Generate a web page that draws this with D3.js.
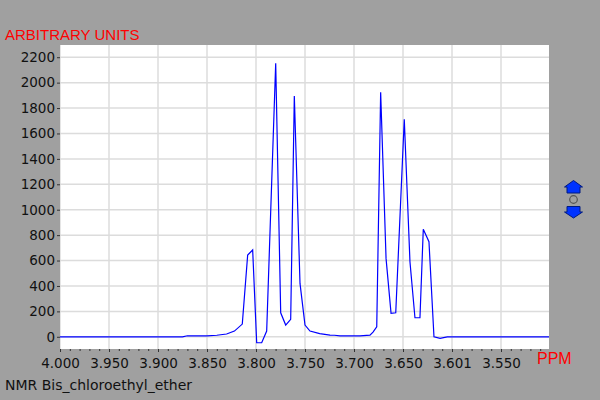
<!DOCTYPE html>
<html>
<head>
<meta charset="utf-8">
<script src="https://cdn.jsdelivr.net/npm/d3@7"></script>
<style>
html,body{margin:0;padding:0;background:#a0a0a0;}
svg{display:block;}
</style>
</head>
<body>
<svg id="chart" width="600" height="400"></svg>
<script>
// ---- data ----
const ppm = [4.000, 3.875, 3.870, 3.850, 3.840, 3.830, 3.822, 3.814, 3.8085, 3.8034, 3.7993, 3.7942, 3.7891,
  3.7799, 3.7748, 3.7697, 3.7646, 3.7609, 3.7551, 3.7500, 3.7449, 3.7350, 3.7245, 3.7200, 3.7143, 3.6939,
  3.6837, 3.6806, 3.6768, 3.6728, 3.6673, 3.6622, 3.6574, 3.6487, 3.6429, 3.6378, 3.6327, 3.6293, 3.6235,
  3.6184, 3.6122, 3.6048, 3.500];
const intensity = [0, 0, 8, 8, 12, 22, 45, 100, 643, 683, -47, -47, 45,
  2153, 189, 92, 137, 1895, 420, 92, 45, 25, 13, 12, 8, 8,
  13, 37, 79, 1924, 617, 184, 189, 1712, 591, 150, 150, 846, 748,
  0, -13, 0, 0];
const xTicks = [4.0, 3.95, 3.9, 3.85, 3.8, 3.75, 3.7, 3.65, 3.6, 3.55];
const xTickLabels = ["4.000", "3.950", "3.900", "3.850", "3.800", "3.750", "3.700", "3.650", "3.601", "3.550"];
const xMinorTicks = d3.range(0, 50).map(i => +(4.0 - i * 0.01).toFixed(3));
const yTicks = [0, 200, 400, 600, 800, 1000, 1200, 1400, 1600, 1800, 2000, 2200];
const yTickLabels = yTicks.map(String);
const yAxisTitle = "ARBITRARY UNITS";
const xAxisTitle = "PPM";
const chartTitle = "NMR Bis_chloroethyl_ether";

// ---- layout ----
const svg = d3.select("#chart");
const L = 60, R = 549, T = 45, B = 349;
const x = d3.scaleLinear().domain([4.0, 3.5]).range([L, 550]);
const y = d3.scaleLinear().domain([-100, 2300]).range([349.5, 44.5]);

svg.append("rect").attr("width", 600).attr("height", 400).attr("fill", "#a0a0a0");
svg.append("rect").attr("x", L).attr("y", T).attr("width", R - L).attr("height", B - T).attr("fill", "#ffffff");

svg.append("clipPath").attr("id", "clip").append("rect")
  .attr("x", L).attr("y", T).attr("width", R - L).attr("height", B - T);

// gridlines
const grid = svg.append("g").attr("clip-path", "url(#clip)");
grid.selectAll("line.v").data(xTicks).enter().append("line")
  .attr("x1", d => x(d)).attr("x2", d => x(d)).attr("y1", T).attr("y2", B)
  .attr("stroke", "#dcdcdc").attr("stroke-width", 1.5);
grid.selectAll("line.h").data(yTicks).enter().append("line")
  .attr("x1", L).attr("x2", R).attr("y1", d => y(d)).attr("y2", d => y(d))
  .attr("stroke", "#dcdcdc").attr("stroke-width", 1.5);

// y axis
const yAxis = d3.axisLeft(y).tickValues(yTicks).tickSize(3).tickPadding(2)
  .tickFormat((d, i) => yTickLabels[i]);
const gy = svg.append("g").attr("transform", `translate(${L},0)`).call(yAxis);
gy.select(".domain").remove();
gy.selectAll(".tick line").attr("stroke", "#333");
gy.selectAll(".tick text").attr("font-family", "DejaVu Sans").attr("font-size", "13.5px").attr("fill", "#111");

// x axis major
const xAxis = d3.axisBottom(x).tickValues(xTicks).tickSize(3).tickPadding(6)
  .tickFormat((d, i) => xTickLabels[i]);
const gx = svg.append("g").attr("transform", `translate(0,${B})`).call(xAxis);
gx.select(".domain").remove();
gx.selectAll(".tick line").attr("stroke", "#333");
gx.selectAll(".tick text").attr("font-family", "DejaVu Sans").attr("font-size", "13.5px").attr("fill", "#111");

// x minor ticks
const xMinor = d3.axisBottom(x).tickValues(xMinorTicks).tickSize(2).tickFormat("");
const gm = svg.append("g").attr("transform", `translate(0,${B})`).call(xMinor);
gm.select(".domain").remove();
gm.selectAll(".tick line").attr("stroke", "#333");

// spectrum line
const pts = ppm.map((p, i) => [p, intensity[i]]);
const line = d3.line().x(d => x(d[0])).y(d => y(d[1]));
svg.append("path").attr("clip-path", "url(#clip)")
  .attr("d", line(pts)).attr("fill", "none").attr("stroke", "#0000ff").attr("stroke-width", 1.2)
  .attr("stroke-linejoin", "miter");

// titles
svg.append("text").attr("x", 5).attr("y", 40).text(yAxisTitle)
  .attr("font-family", "Liberation Sans").attr("font-size", "15px").attr("fill", "#ff0000");
svg.append("text").attr("x", 537).attr("y", 364).text(xAxisTitle)
  .attr("font-family", "Liberation Sans").attr("font-size", "16px").attr("fill", "#ff0000");
svg.append("text").attr("x", 5).attr("y", 390).text(chartTitle)
  .attr("font-family", "DejaVu Sans").attr("font-size", "14px").attr("fill", "#111");

// scroll controls
const ctl = svg.append("g");
ctl.append("path").attr("d", "M573.5,180.5 L582.5,187 L580,187 L580,193 L567,193 L567,187 L564.5,187 Z")
  .attr("fill", "#0033ff").attr("stroke", "#001a80").attr("stroke-width", 1);
ctl.append("circle").attr("cx", 573.5).attr("cy", 199.5).attr("r", 3.8)
  .attr("fill", "none").attr("stroke", "#555").attr("stroke-width", 1.2);
ctl.append("path").attr("d", "M567,206.5 L580,206.5 L580,212 L582.5,212 L573.5,218 L564.5,212 L567,212 Z")
  .attr("fill", "#0033ff").attr("stroke", "#001a80").attr("stroke-width", 1);
</script>
</body>
</html>
